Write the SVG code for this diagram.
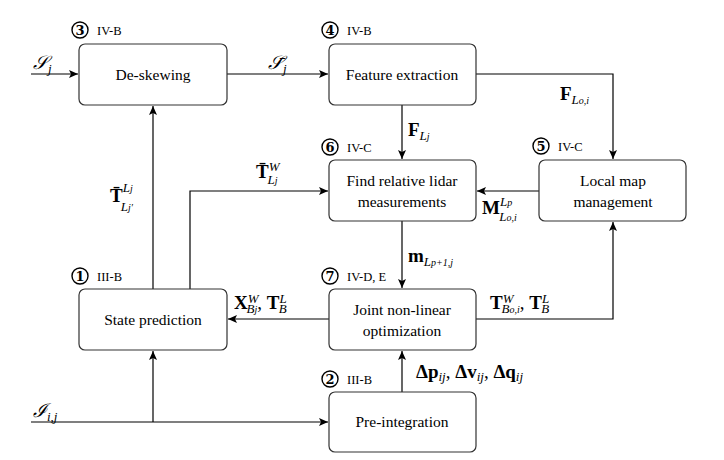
<svg xmlns="http://www.w3.org/2000/svg" width="724" height="460" viewBox="0 0 724 460">
<style>
.box{fill:#fff;stroke:#333;stroke-width:1.2}
.t{font-family:"Liberation Serif","Times New Roman","DejaVu Serif",serif;font-size:15.5px;text-anchor:middle;fill:#000}
.s{font-family:"Liberation Serif","Times New Roman","DejaVu Serif",serif;font-size:12.5px;fill:#000}
.n{font-family:"DejaVu Serif",serif;font-size:13px;font-weight:bold;text-anchor:middle}
.c{fill:none;stroke:#000;stroke-width:1.4}
.m{font-family:"Liberation Serif","Times New Roman","DejaVu Serif",serif;font-size:19px;fill:#000}
.b{font-weight:bold;font-style:normal}
.i{font-style:italic;font-size:13px}
.l{fill:none;stroke:#000;stroke-width:1.2}
</style>
<defs><marker id="a" markerWidth="10" markerHeight="8" refX="9" refY="4" orient="auto" markerUnits="userSpaceOnUse"><path d="M0,0 L9,4 L0,8 L2,4z" fill="#000"/></marker></defs>
<g id="connectors" class="l" marker-end="url(#a)">
<path d="M31,74 H78"/>
<path d="M227,74 H328"/>
<path d="M476,74 H613 V159"/>
<path d="M402,105 V159"/>
<path d="M539,191 H477"/>
<path d="M402,221 V288"/>
<path d="M476,319 H613 V222"/>
<path d="M329,319 H228"/>
<path d="M153,289 V106"/>
<path d="M190,289 V191 H328"/>
<path d="M31,422 H328"/>
<path d="M153,422 V351"/>
<path d="M402,392 V351"/>
</g>
<g id="labels">
<text class="m" x="33" y="69" font-style="italic">𝒮<tspan class="i" dy="4">j</tspan></text>
<text class="m" x="268" y="69" font-style="italic">𝒮̄<tspan class="i" dy="4">j</tspan></text>
<text class="m" x="560" y="100"><tspan class="b">F</tspan><tspan class="i" dy="4">L</tspan><tspan font-size="10" font-style="italic">o,i</tspan></text>
<text class="m" x="408" y="136"><tspan class="b">F</tspan><tspan class="i" dy="4">L</tspan><tspan font-size="10" font-style="italic">j</tspan></text>
<text class="m" x="256" y="178"><tspan class="b">T̄</tspan><tspan class="i" dy="-7">W</tspan><tspan class="i" dx="-12" dy="13">L</tspan><tspan font-size="10" font-style="italic">j</tspan></text>
<text class="m" x="110" y="202"><tspan class="b">T̄</tspan><tspan class="i" dy="-10">L</tspan><tspan font-size="10" font-style="italic">j</tspan><tspan class="i" dx="-12" dy="19">L</tspan><tspan font-size="10" font-style="italic">j′</tspan></text>
<text class="m" x="482" y="214"><tspan class="b">M</tspan><tspan class="i" dy="-8">L</tspan><tspan font-size="10" font-style="italic">p</tspan><tspan class="i" dx="-13" dy="15">L</tspan><tspan font-size="10" font-style="italic">o,i</tspan></text>
<text class="m" x="408" y="262"><tspan class="b">m</tspan><tspan class="i" dy="4">L</tspan><tspan font-size="10" font-style="italic">p+1,j</tspan></text>
<text class="m" x="234" y="309"><tspan class="b">X</tspan><tspan class="i" dy="-6">W</tspan><tspan class="i" dx="-12" dy="10">B</tspan><tspan font-size="10" font-style="italic">j</tspan><tspan dy="-4">, </tspan><tspan class="b">T</tspan><tspan class="i" dy="-6">L</tspan><tspan class="i" dx="-8" dy="10">B</tspan></text>
<text class="m" x="490" y="309"><tspan class="b">T</tspan><tspan class="i" dy="-6">W</tspan><tspan class="i" dx="-12" dy="10">B</tspan><tspan font-size="10" font-style="italic">o,i</tspan><tspan dy="-4">, </tspan><tspan class="b">T</tspan><tspan class="i" dy="-6">L</tspan><tspan class="i" dx="-8" dy="10">B</tspan></text>
<text class="m" x="416" y="378"><tspan class="b">Δp</tspan><tspan class="i" dy="3">ij</tspan><tspan dy="-3">, </tspan><tspan class="b">Δv</tspan><tspan class="i" dy="3">ij</tspan><tspan dy="-3">, </tspan><tspan class="b">Δq</tspan><tspan class="i" dy="3">ij</tspan></text>
<text class="m" x="33" y="417" font-style="italic">ℐ<tspan class="i" dy="4">i,j</tspan></text>
</g>
<g id="n3"><rect class="box" x="79" y="44" width="148" height="61" rx="6"/><text class="t" x="153" y="80">De-skewing</text><circle class="c" cx="80" cy="30" r="8"/><text class="n" x="80" y="35">3</text><text class="s" x="97" y="35">IV-B</text></g>
<g id="n4"><rect class="box" x="329" y="44" width="147" height="61" rx="6"/><text class="t" x="402" y="80">Feature extraction</text><circle class="c" cx="330" cy="30" r="8"/><text class="n" x="330" y="35">4</text><text class="s" x="347" y="35">IV-B</text></g>
<g id="n6"><rect class="box" x="329" y="160" width="147" height="61" rx="6"/><text class="t" x="402" y="186">Find relative lidar</text><text class="t" x="402" y="207">measurements</text><circle class="c" cx="330" cy="147" r="8"/><text class="n" x="330" y="152">6</text><text class="s" x="347" y="152">IV-C</text></g>
<g id="n5"><rect class="box" x="539" y="160" width="147" height="61" rx="6"/><text class="t" x="613" y="186">Local map</text><text class="t" x="613" y="207">management</text><circle class="c" cx="541" cy="146" r="8"/><text class="n" x="541" y="151">5</text><text class="s" x="558" y="151">IV-C</text></g>
<g id="n1"><rect class="box" x="79" y="289" width="148" height="61" rx="6"/><text class="t" x="153" y="325">State prediction</text><circle class="c" cx="80" cy="276" r="8"/><text class="n" x="80" y="281">1</text><text class="s" x="97" y="281">III-B</text></g>
<g id="n7"><rect class="box" x="329" y="289" width="147" height="61" rx="6"/><text class="t" x="402" y="315">Joint non-linear</text><text class="t" x="402" y="336">optimization</text><circle class="c" cx="330" cy="276" r="8"/><text class="n" x="330" y="281">7</text><text class="s" x="347" y="281">IV-D, E</text></g>
<g id="n2"><rect class="box" x="329" y="392" width="147" height="60" rx="6"/><text class="t" x="402" y="427">Pre-integration</text><circle class="c" cx="330" cy="379" r="8"/><text class="n" x="330" y="384">2</text><text class="s" x="347" y="384">III-B</text></g>
</svg>
